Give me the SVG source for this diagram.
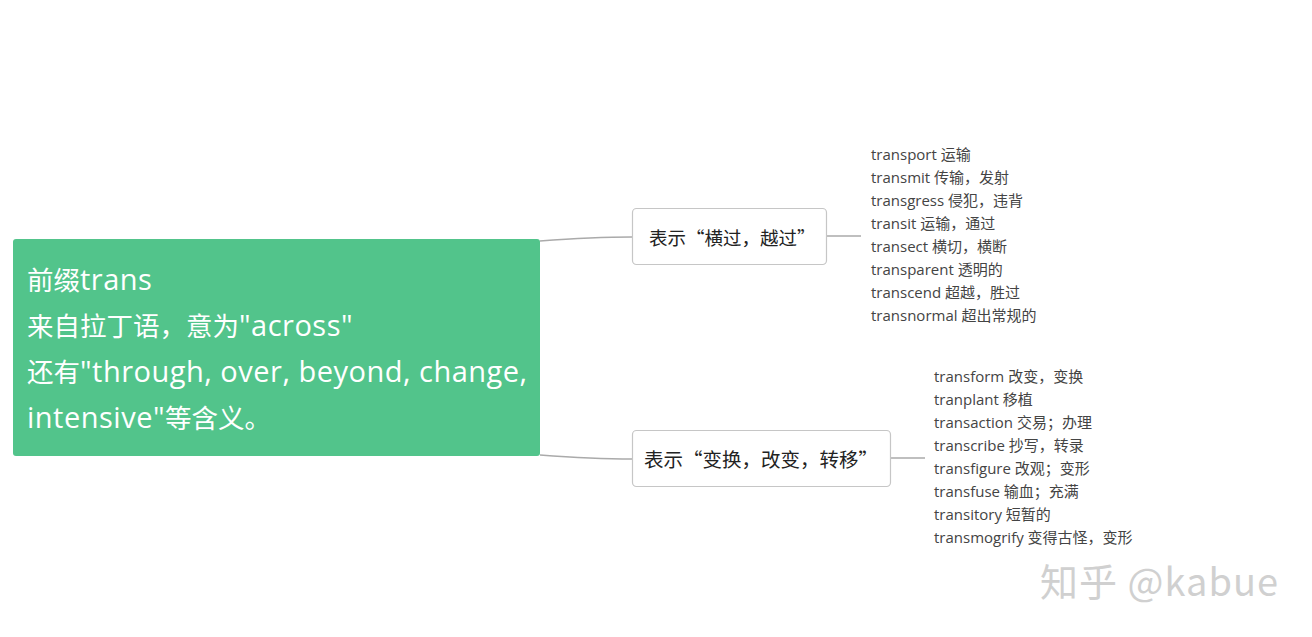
<svg xmlns="http://www.w3.org/2000/svg" width="1312" height="637" viewBox="0 0 1312 637">
<style>
.root{fill:#52c48b}
.rootT{font-family:"Open Sans","Noto Sans CJK SC",sans-serif;font-size:29px;letter-spacing:0.5px;fill:#ffffff}
.cj{font-family:"Noto Sans CJK SC",sans-serif;font-size:26.5px;letter-spacing:0}
.box{fill:#ffffff;stroke:#c6c6c6;stroke-width:1.2}
.boxT{font-family:"Noto Sans CJK SC",sans-serif;fill:#222222}
.leaf{font-family:"Open Sans","Noto Sans CJK SC",sans-serif;font-size:15px;fill:#444444}
.conn{fill:none;stroke:#aaaaaa;stroke-width:1.3}
.wm{font-family:"Noto Sans CJK SC","Open Sans",sans-serif;font-size:38px;letter-spacing:1px;fill:#d0d0d0}
</style>
<rect width="1312" height="637" fill="#ffffff"/>
<g id="connectors">
<path class="conn" d="M540,241 C580,238 600,237 632,237"/>
<path class="conn" d="M540,455 C580,458 600,459 632,459"/>
<path class="conn" d="M827,236 L861,236"/>
<path class="conn" d="M891,458 L925,458"/>
</g>
<g id="root">
<rect class="root" x="13" y="239" width="527" height="217" rx="3"/>
<text class="rootT" x="27" y="290"><tspan class="cj">前缀</tspan>trans</text>
<text class="rootT" x="27" y="336"><tspan class="cj">来自拉丁语，意为</tspan>"across"</text>
<text class="rootT" x="27" y="382"><tspan class="cj">还有</tspan>"through, over, beyond, change,</text>
<text class="rootT" x="27" y="428">intensive"<tspan class="cj">等含义。</tspan></text>
</g>
<g id="node1">
<rect class="box" x="632.5" y="208.5" width="194" height="56" rx="4"/>
<text class="boxT" x="649" y="245" font-size="18.5">表示“横过，越过”</text>
</g>
<g id="node2">
<rect class="box" x="632.5" y="430.5" width="258" height="56" rx="4"/>
<text class="boxT" x="644" y="467" font-size="19.5">表示“变换，改变，转移”</text>
</g>
<g id="leaves1">
<text class="leaf" x="871" y="160">transport 运输</text>
<text class="leaf" x="871" y="183">transmit 传输，发射</text>
<text class="leaf" x="871" y="206">transgress 侵犯，违背</text>
<text class="leaf" x="871" y="229">transit 运输，通过</text>
<text class="leaf" x="871" y="252">transect 横切，横断</text>
<text class="leaf" x="871" y="275">transparent 透明的</text>
<text class="leaf" x="871" y="298">transcend 超越，胜过</text>
<text class="leaf" x="871" y="321">transnormal 超出常规的</text>
</g>
<g id="leaves2">
<text class="leaf" x="934" y="382">transform 改变，变换</text>
<text class="leaf" x="934" y="405">tranplant 移植</text>
<text class="leaf" x="934" y="428">transaction 交易；办理</text>
<text class="leaf" x="934" y="451">transcribe 抄写，转录</text>
<text class="leaf" x="934" y="474">transfigure 改观；变形</text>
<text class="leaf" x="934" y="497">transfuse 输血；充满</text>
<text class="leaf" x="934" y="520">transitory 短暂的</text>
<text class="leaf" x="934" y="543">transmogrify 变得古怪，变形</text>
</g>
<text class="wm" x="1040" y="596">知乎 @kabue</text>
</svg>
